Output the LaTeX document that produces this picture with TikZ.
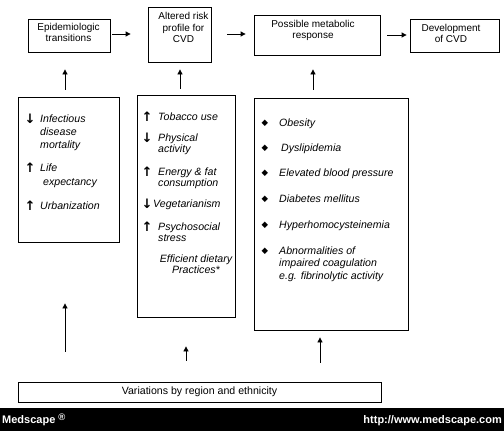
\documentclass[tikz,border=0pt]{standalone}
\usepackage{fontspec}
\setmainfont{Liberation Sans}
\newfontfamily\symfont{DejaVu Sans}
\usetikzlibrary{arrows.meta}
\begin{document}
\begin{tikzpicture}[x=1pt,y=-1pt,
  box/.style={draw, line width=0.8pt, inner sep=0pt},
  lbl/.style={font=\fontsize{10}{11.3}\selectfont, align=center, inner sep=0pt},
  itm/.style={font=\fontsize{10.6}{12}\selectfont\itshape, anchor=base west, inner sep=0pt},
  itc/.style={font=\fontsize{10.6}{12}\selectfont\itshape, anchor=base, inner sep=0pt},
  sym/.style={font=\symfont\bfseries\fontsize{13}{13}\selectfont, anchor=center, inner sep=0pt},
  dia/.style={font=\symfont\fontsize{8.5}{8.5}\selectfont, anchor=center, inner sep=0pt},
  arr/.style={-{Triangle[length=5pt,width=5pt]}, line width=0.8pt},
  foot/.style={font=\bfseries\fontsize{11}{11}\selectfont, text=white, inner sep=0pt},
]
\useasboundingbox (0,0) rectangle (504,431);

% top row boxes
\node[box, minimum width=82pt, minimum height=33pt] (epi) at (69,35.5) {};
\node[lbl] (epiT) at (68.5,32.5) {Epidemiologic\\transitions};
\node[box, minimum width=63pt, minimum height=55pt] (alt) at (179.5,34.5) {};
\node[lbl] (altT) at (183.5,27.5) {Altered risk\\profile for\\CVD};
\node[box, minimum width=126pt, minimum height=40pt] (pmr) at (317,35) {};
\node[lbl] (pmrT) at (313,30.5) {Possible metabolic\\response};
\node[box, minimum width=89pt, minimum height=33pt] (dev) at (454.5,35.5) {};
\node[lbl] (devT) at (451,33.5) {Development\\of CVD};

% lower boxes
\node[box, minimum width=101pt, minimum height=145pt] (lbox) at (68.5,169.5) {};
\node[box, minimum width=98pt, minimum height=222pt] (mbox) at (186,206) {};
\node[box, minimum width=154pt, minimum height=232pt] (rbox) at (331,214) {};
\node[box, minimum width=363pt, minimum height=20pt, font=\fontsize{10.6}{12}\selectfont] (var) at (199.5,392) {Variations by region and ethnicity};

% left box items
\node[sym] (l1) at (30,118.5) {↓};
\node[itm] (l1t) at (40,122.5) {Infectious};
\node[itm] (l1u) at (40,135.5) {disease};
\node[itm] (l1v) at (40,148.5) {mortality};
\node[sym] (l2) at (30,167.5) {↑};
\node[itm] (l2t) at (40,171.5) {Life};
\node[itm] (l2u) at (43,185.5) {expectancy};
\node[sym] (l3) at (30,205.5) {↑};
\node[itm] (l3t) at (40,209.5) {Urbanization};

% middle box items
\node[sym] (m1) at (147,116.5) {↑};
\node[itm] (m1t) at (158,120.5) {Tobacco use};
\node[sym] (m2) at (147,137.5) {↓};
\node[itm] (m2t) at (158,141.5) {Physical};
\node[itm] (m2u) at (158,152.5) {activity};
\node[sym] (m3) at (147,171.5) {↑};
\node[itm] (m3t) at (158,175.5) {Energy \& fat};
\node[itm] (m3u) at (158,186.5) {consumption};
\node[sym] (m4) at (147,203.5) {↓};
\node[itm] (m4t) at (153,207.5) {Vegetarianism};
\node[sym] (m5) at (147,226.5) {↑};
\node[itm] (m5t) at (158,230.5) {Psychosocial};
\node[itm] (m5u) at (158,241.5) {stress};
\node[itc] (m6t) at (196,262.5) {Efficient dietary};
\node[itc] (m6u) at (196,273.5) {Practices*};

% right box items
\node[dia] (r1) at (265,123) {◆};
\node[itm] (r1t) at (279,126.5) {Obesity};
\node[dia] (r2) at (265,148) {◆};
\node[itm] (r2t) at (281,151.5) {Dyslipidemia};
\node[dia] (r3) at (265,173) {◆};
\node[itm] (r3t) at (279,176.5) {Elevated blood pressure};
\node[dia] (r4) at (265,199) {◆};
\node[itm] (r4t) at (279,202.5) {Diabetes mellitus};
\node[dia] (r5) at (265,225) {◆};
\node[itm] (r5t) at (279,228.5) {Hyperhomocysteinemia};
\node[dia] (r6) at (265,251) {◆};
\node[itm] (r6t) at (279,254.5) {Abnormalities of};
\node[itm] (r6u) at (279,266.5) {impaired coagulation};
\node[itm] (r6v) at (279,279.5) {e.g. fibrinolytic activity};

% horizontal arrows
\draw[arr, shorten <=2pt, shorten >=17pt] (epi.east |- 0,34) -- (alt.west |- 0,34);
\draw[arr, shorten <=16pt, shorten >=8pt] (alt.east |- 0,34) -- (pmr.west |- 0,34);
\draw[arr, shorten <=7pt, shorten >=3pt] (pmr.east |- 0,35) -- (dev.west |- 0,35);

% vertical guide coordinates
\coordinate (c1) at (65,0);
\coordinate (c2) at (180,0);
\coordinate (c3) at (313,0);
\coordinate (c4) at (186,0);
\coordinate (c5) at (320,0);

% arrows into top boxes
\draw[arr, shorten <=7pt, shorten >=17pt] (lbox.north -| c1) -- (epi.south -| c1);
\draw[arr, shorten <=6pt, shorten >=7pt] (mbox.north -| c2) -- (alt.south -| c2);
\draw[arr, shorten <=8pt, shorten >=14pt] (rbox.north -| c3) -- (pmr.south -| c3);

% arrows from bottom box
\draw[arr, shorten <=30pt, shorten >=61pt] (var.north -| c1) -- (lbox.south -| c1);
\draw[arr, shorten <=21pt, shorten >=29pt] (var.north -| c4) -- (mbox.south -| c4);
\draw[arr, shorten <=19pt, shorten >=7pt] (var.north -| c5) -- (rbox.south -| c5);

% footer
\fill[black] (0,408) rectangle (504,431);
\node[foot, anchor=base west] (ms) at (2,423) {Medscape {\fontsize{9.5}{9.5}\selectfont\raisebox{2.5pt}{®}}};
\node[foot, anchor=base east] (url) at (502,423) {http://www.medscape.com};
\end{tikzpicture}
\end{document}
